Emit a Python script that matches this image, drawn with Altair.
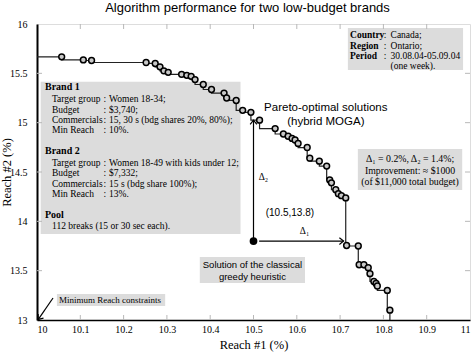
import altair as alt
import pandas as pd

# ---------------- data ----------------
reach1 = [10.057, 10.107, 10.126, 10.252, 10.273, 10.284, 10.293, 10.303, 10.334, 10.346,
          10.356, 10.365, 10.384, 10.403, 10.432, 10.438, 10.460, 10.475, 10.494, 10.514,
          10.550, 10.569, 10.580, 10.589, 10.596, 10.603, 10.624, 10.630, 10.652, 10.669,
          10.676, 10.680, 10.690, 10.696, 10.703, 10.713, 10.715, 10.742, 10.744, 10.755,
          10.765, 10.769, 10.778, 10.783, 10.786, 10.809, 10.815]
reach2 = [15.667, 15.636, 15.630, 15.610, 15.600, 15.566, 15.525, 15.510, 15.490, 15.480,
          15.470, 15.437, 15.387, 15.336, 15.300, 15.250, 15.225, 15.125, 15.105, 15.025,
          14.940, 14.885, 14.862, 14.840, 14.825, 14.790, 14.748, 14.640, 14.610, 14.560,
          14.420, 14.390, 14.320, 14.280, 14.260, 14.237, 13.755, 13.750, 13.560, 13.560,
          13.530, 13.470, 13.390, 13.370, 13.345, 13.300, 13.100]

greedy_r1 = [10.5]
greedy_r2 = [13.8]

x_ticks = [10, 10.1, 10.2, 10.3, 10.4, 10.5, 10.6, 10.7, 10.8, 10.9, 11]
y_ticks = [13, 13.5, 14, 14.5, 15, 15.5, 16]
x_min, x_max = 10, 11
y_min, y_max = 13, 16

title_text = "Algorithm performance for two low-budget brands"

# brand box texts
brand_heads = ["Brand 1", "Brand 2", "Pool"]
brand_labels = ["Target group", "Budget", "Commercials", "Min Reach",
                "Target group", "Budget", "Commercials", "Min Reach"]
brand_values = ["Women 18-34;", "$3,740;", "15, 30 s (bdg shares 20%, 80%);", "10%.",
                "Women 18-49 with kids under 12;", "$7,332;", "15 s (bdg share 100%);", "13%."]
pool_text = ["112 breaks (15 or 30 sec each)."]

country_labels = ["Country", "Region", "Period", ""]
country_values = ["Canada;", "Ontario;", "30.08.04-05.09.04", "(one week)."]

delta_lines = ["\u0394\u2081 = 0.2%,  \u0394\u2082 = 1.4%;", "Improvement: \u2248 $1000",
               "(of $11,000 total budget)"]
greedy_lines = ["Solution of the classical", "greedy heuristic"]
pareto_lines = ["Pareto-optimal solutions", "(hybrid MOGA)"]
min_reach_text = ["Minimum Reach constraints"]
point_label = ["(10.5,13.8)"]
delta_marks = ["\u0394\u2082", "\u0394\u2081"]

# ---------------- annotation positions (data units) ----------------
brand_head_y = [15.361, 14.713, 14.069]
brand_row_y = [15.240, 15.133, 15.027, 14.921, 14.596, 14.490, 14.378, 14.272]
pool_y = [13.953]
brand_box = dict(x=10.0085, x2=10.470, y=15.415, y2=13.872)
country_box = dict(x=10.718, x2=10.984, y=15.959, y2=15.534)
country_y = [15.889, 15.782, 15.676, 15.574]
delta_box = dict(x=10.741, x2=10.982, y=14.733, y2=14.318)
delta_y = [14.632, 14.510, 14.399]
greedy_box = dict(x=10.376, x2=10.619, y=13.639, y2=13.375)
greedy_y = [13.557, 13.436]
minr_box = dict(x=10.046, x2=10.296, y=13.264, y2=13.142)

W, H = 433, 296
SERIF = "Liberation Serif"
SANS = "Liberation Sans"
BOX = "#dcdcdc"

xs = alt.Scale(domain=[x_min, x_max], nice=False, zero=False)
ys = alt.Scale(domain=[y_min, y_max], nice=False, zero=False)
x_axis = alt.Axis(title="Reach #1 (%)", values=x_ticks, format="~g", grid=False, ticks=False,
                  labelFont=SERIF, labelFontSize=10, labelColor="black", labelPadding=4,
                  titleFont=SERIF, titleFontSize=12.5, titleFontWeight="normal", titleColor="black",
                  titlePadding=4, domainColor="black", domainWidth=1.5)
y_axis = alt.Axis(title="Reach #2 (%)", values=y_ticks, format="~g", grid=False, ticks=False,
                  labelFont=SERIF, labelFontSize=10, labelColor="black", labelPadding=10,
                  titleFont=SERIF, titleFontSize=12.5, titleFontWeight="normal", titleColor="black",
                  titleX=-37, titleY=H / 2, titleBaseline="top", titleAlign="center",
                  domainColor="black", domainWidth=2)


def X(f):
    return alt.X(f, type="quantitative", scale=xs, axis=x_axis)


def Y(f):
    return alt.Y(f, type="quantitative", scale=ys, axis=y_axis)


# boxes
boxes = pd.DataFrame([brand_box, country_box, delta_box, greedy_box, minr_box])
box_layer = alt.Chart(boxes).mark_rect(color=BOX).encode(
    x=X("x"), x2="x2", y=Y("y"), y2="y2")

# inward ticks
xt = pd.DataFrame({"v": x_ticks[1:-1]})
yt = pd.DataFrame({"v": y_ticks[1:-1]})
tick_style = dict(color="#b8b8b8", strokeWidth=1)
xt_bottom = alt.Chart(xt).mark_rule(**tick_style).encode(x=X("v"), y=alt.value(H), y2=alt.value(H - 5))
xt_top = alt.Chart(xt).mark_rule(**tick_style).encode(x=X("v"), y=alt.value(0), y2=alt.value(5))
yt_left = alt.Chart(yt).mark_rule(**tick_style).encode(y=Y("v"), x=alt.value(0), x2=alt.value(5))
yt_right = alt.Chart(yt).mark_rule(**tick_style).encode(y=Y("v"), x=alt.value(W), x2=alt.value(W - 5))

# step front
front_x = [x_min] + reach1 + [reach1[-1]]
front_y = [reach2[0]] + reach2 + [y_min]
front = pd.DataFrame({"x": front_x, "y": front_y, "i": list(range(len(front_x)))})
line_layer = alt.Chart(front).mark_line(interpolate="step-before", color="#222222", strokeWidth=1.2).encode(
    x=X("x"), y=Y("y"), order="i:Q")

pts = pd.DataFrame({"x": reach1, "y": reach2})
pt_layer = alt.Chart(pts).mark_point(shape="circle", size=34, filled=True, fill="#c8c8c8",
                                     stroke="black", strokeWidth=1.5, opacity=1).encode(x=X("x"), y=Y("y"))

greedy = pd.DataFrame({"x": greedy_r1, "y": greedy_r2})
greedy_layer = alt.Chart(greedy).mark_point(shape="circle", size=60, filled=True, color="black",
                                            opacity=1).encode(x=X("x"), y=Y("y"))

# arrows
arrows = pd.DataFrame({
    "x": [greedy_r1[0], greedy_r1[0] + 0.013, 10.037],
    "y": [greedy_r2[0], greedy_r2[0], 13.223],
    "x2": [greedy_r1[0], 10.708, 10.003],
    "y2": [15.025, greedy_r2[0], 13.006],
})
arrow_lines = alt.Chart(arrows).mark_rule(color="black", strokeWidth=1.2).encode(
    x=X("x"), y=Y("y"), x2="x2", y2="y2")
heads = pd.DataFrame({"x": [greedy_r1[0], 10.708, 10.003], "y": [15.025, greedy_r2[0], 13.006],
                      "a": [-90, 0, 127]})
head_layer = alt.Chart(heads).mark_point(shape="M-1,-0.8L0,0L-1,0.8", size=70, filled=False,
                                         stroke="black", strokeWidth=1.2, opacity=1).encode(
    x=X("x"), y=Y("y"), angle=alt.Angle("a:Q", scale=None))


def text_layer(df, **kw):
    return alt.Chart(df).mark_text(baseline="middle", color="black", **kw).encode(
        x=X("x"), y=Y("y"), text="t:N")


BF = 9.5
t_heads = text_layer(pd.DataFrame({"x": [10.0185] * 3, "y": brand_head_y, "t": brand_heads}),
                     font=SERIF, fontSize=10, fontWeight="bold", align="left")
t_labels = text_layer(pd.DataFrame({"x": [10.0346] * 8, "y": brand_row_y, "t": brand_labels}),
                      font=SERIF, fontSize=BF, align="left")
t_colons = text_layer(pd.DataFrame({"x": [10.1535] * 8, "y": brand_row_y, "t": [":"] * 8}),
                      font=SERIF, fontSize=BF, align="left")
t_values = text_layer(pd.DataFrame({"x": [10.1665] * 8, "y": brand_row_y, "t": brand_values}),
                      font=SERIF, fontSize=BF, align="left")
t_pool = text_layer(pd.DataFrame({"x": [10.0346], "y": pool_y, "t": pool_text}),
                    font=SERIF, fontSize=BF, align="left")

t_cl = text_layer(pd.DataFrame({"x": [10.723] * 4, "y": country_y, "t": country_labels}),
                  font=SERIF, fontSize=9.5, fontWeight="bold", align="left")
t_cc = text_layer(pd.DataFrame({"x": [10.801] * 3, "y": country_y[:3], "t": [":"] * 3}),
                  font=SERIF, fontSize=9.5, align="left")
t_cv = text_layer(pd.DataFrame({"x": [10.8165] * 4, "y": country_y, "t": country_values}),
                  font=SERIF, fontSize=9.5, align="left")

t_delta = text_layer(pd.DataFrame({"x": [10.8615] * 3, "y": delta_y, "t": delta_lines}),
                     font=SERIF, fontSize=9.8, align="center")
t_greedy = text_layer(pd.DataFrame({"x": [10.4975] * 2, "y": greedy_y, "t": greedy_lines}),
                      font=SANS, fontSize=9.5, align="center")
t_pareto = text_layer(pd.DataFrame({"x": [10.667] * 2, "y": [15.149, 15.002], "t": pareto_lines}),
                      font=SANS, fontSize=11.5, align="center")
t_minr = text_layer(pd.DataFrame({"x": [10.051], "y": [13.203], "t": min_reach_text}),
                    font=SERIF, fontSize=9, align="left")
t_pt = text_layer(pd.DataFrame({"x": [10.584], "y": [14.085], "t": point_label}),
                  font=SANS, fontSize=10, align="center")
t_dm = text_layer(pd.DataFrame({"x": [10.512, 10.607], "y": [14.45, 13.905], "t": delta_marks}),
                  font=SERIF, fontSize=9.5, align="left")

chart = alt.layer(
    box_layer, xt_bottom, xt_top, yt_left, yt_right,
    line_layer, arrow_lines, head_layer, pt_layer, greedy_layer,
    t_heads, t_labels, t_colons, t_values, t_pool, t_cl, t_cc, t_cv,
    t_delta, t_greedy, t_pareto, t_minr, t_pt, t_dm,
).properties(
    width=W, height=H,
    title=alt.Title(title_text, font=SANS, fontSize=13, fontWeight="normal", color="black",
                    anchor="middle", frame="group", dx=-6, offset=4),
    autosize=alt.AutoSizeParams(type="none"),
    padding={"left": 37, "top": 24, "right": 4, "bottom": 32},
).configure_view(stroke="black", strokeWidth=1.5).configure(background="white")

chart.save("out.html", embed_options={"renderer": "svg", "actions": False})
